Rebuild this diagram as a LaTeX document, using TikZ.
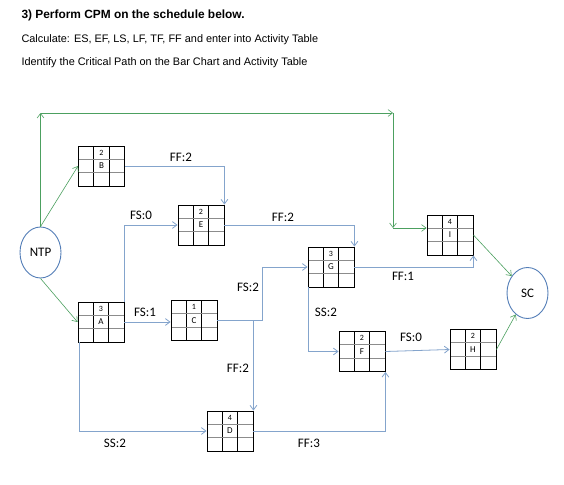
\documentclass[tikz,border=0pt]{standalone}
\usepackage{fontspec}
\setmainfont{Carlito}
\newfontfamily\arialfont{Liberation Sans}
\usetikzlibrary{arrows.meta,positioning,calc,shapes.geometric}
\definecolor{netgreen}{RGB}{76,160,96}
\definecolor{linkblue}{RGB}{132,164,204}
\definecolor{evblue}{RGB}{84,126,184}
\tikzset{
  act/.style={rectangle, draw=black, line width=0.9pt, minimum width=46pt, minimum height=40pt,
              inner sep=0pt, font=\fontsize{9}{9}\selectfont,
    path picture={
      \foreach \f in {1/3,2/3}{
        \draw[line width=0.9pt]
          ($(path picture bounding box.south west)!\f!(path picture bounding box.south east)$) --
          ($(path picture bounding box.north west)!\f!(path picture bounding box.north east)$);
        \draw[line width=1pt, draw=black!45]
          ($(path picture bounding box.south west)!\f!(path picture bounding box.north west)$) --
          ($(path picture bounding box.south east)!\f!(path picture bounding box.north east)$);
      }
      \node[font=\fontsize{8}{8}\selectfont] at
        ($(path picture bounding box.north)!1/6!(path picture bounding box.south)$) {#1};
    }},
  event/.style={ellipse, draw=evblue, line width=0.9pt, minimum width=41pt, minimum height=51pt,
                inner sep=0pt, font=\fontsize{13}{13}\selectfont},
  link/.style={draw=linkblue, line width=0.8pt, -{Straight Barb[length=1.6mm,width=2.4mm]}},
  net/.style={draw=netgreen, line width=0.6pt, -{Straight Barb[length=1.6mm,width=2.4mm]}},
  tag/.style={font=\fontsize{13}{13}\selectfont},
  head/.style={anchor=base west, font=\arialfont\fontsize{10.9}{12}\selectfont},
}

\begin{document}
\begin{tikzpicture}[x=1pt,y=-1pt]
\fill[white] (0,0) rectangle (564,484);
\useasboundingbox (0,0) rectangle (564,484);

% ================= heading =================
\node[head, font=\arialfont\bfseries\fontsize{11.9}{13}\selectfont] (title) at (18,18.5)
  {3) Perform CPM on the schedule below.};
\node[head] (calc) at (18,42.5) {Calculate: ES, EF, LS, LF, TF, FF and enter into Activity Table};
\node[head] (ident) at (18,66) {Identify the Critical Path on the Bar Chart and Activity Table};

% ================= events =================
\node[event] (NTP) at (40.5,252.5) {NTP};
\node[event] (SC) at (527.5,293) {SC};

% ================= activities =================
\node[act=2] (B) at (101.5,166) {B};
\node[act=2] (E) at (201,225) {E};
\node[act=3] (G) at (331,267) {G};
\node[act=4] (I) at (450,235) {I};
\node[act=3] (A) at (101,322) {A};
\node[act=1] (C) at (194,320.5) {C};
\node[act=4] (D) at (230,431) {D};
\node[act=2] (F) at (362,351.5) {F};
\node[act=2] (H) at (473,349.5) {H};

% ================= green: start / finish ties =================
\coordinate (tl) at (40.5,113);
\coordinate (tr) at (393,113);
\coordinate (ti) at (393,228);
\draw[net] (NTP.north) -- (tl);
\draw[net] (tl) -- (tr);
\draw[net] (tr) -- (ti);
\draw[net] (ti) -- (ti -| I.west);
\draw[net] (NTP.north) -- (B.west);
\draw[net] (NTP.south) -- (A.west);
\draw[net] (I.east) -- (SC);
\draw[net] (H.east) -- (SC);

% ================= blue: relationships =================
\draw[link] (B.east) -| (E.north east);
\draw[link] (A.north east) |- (E.west);
\draw[link] (E.east) -| (G.north east);
\draw[link] (A.east) -- (A.east -| C.west);
\coordinate (cg) at ($(C.east)+(45,0)$);
\draw[link] (C.east) -- (cg) |- (G.west);
\coordinate (cd) at (C.east -| D.north east);
\draw[link] (cd) -- (D.north east);
\draw[link] ([xshift=1.5pt]A.south west) |- (D.west);
\draw[link] (D.east) -| (F.south east);
\draw[link] ([xshift=1pt]G.south west) |- (F.west);
\draw[link] (F.east) -- (H.west);
\draw[link] (G.east) -| (I.south east);

% ================= lags =================
\node[tag] (lBE) at (181,157) {FF:2};
\node[tag] (lAE) at (141,215) {FS:0};
\node[tag] (lEG) at (283,217) {FF:2};
\node[tag] (lGI) at (403,276) {FF:1};
\node[tag] (lAC) at (145,312) {FS:1};
\node[tag] (lCG) at (248,287) {FS:2};
\node[tag] (lCD) at (238,368) {FF:2};
\node[tag] (lAD) at (115,443) {SS:2};
\node[tag] (lGF) at (326,312) {SS:2};
\node[tag] (lFH) at (411,337) {FS:0};
\node[tag] (lDF) at (309,443) {FF:3};

\end{tikzpicture}
\end{document}
